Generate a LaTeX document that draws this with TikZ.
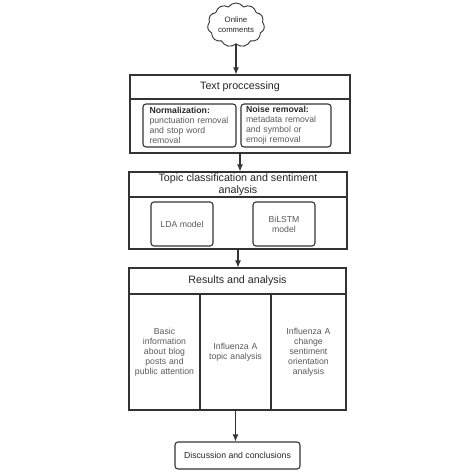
\documentclass[tikz,border=0pt]{standalone}
\usepackage{fontspec}
\setmainfont{Liberation Sans}
\usetikzlibrary{shapes.symbols, arrows.meta}

\begin{document}
\begin{tikzpicture}[
    x=1pt, y=-1pt,
    % Outer boxes: header strip and body
    head/.style={draw=black!80, line width=1.1pt, fill=white, align=center, inner sep=0pt, font=\fontsize{10.7}{12}\selectfont, text=black!85},
    body/.style={draw=black!80, line width=1.1pt, inner sep=0pt},
    % Inner rounded boxes
    inbox/.style={draw=black!80, line width=1.1pt, rounded corners=3pt, inner sep=0pt, font=\fontsize{8.7}{10}\selectfont, text=black!65},
    % Result columns
    col/.style={draw=black!80, line width=1.1pt, inner sep=0pt, text width=66pt, align=center, minimum height=116pt, font=\fontsize{8.7}{10}\selectfont, text=black!65},
    % Connectors
    arr/.style={-{Latex[length=7pt, width=6pt]}, line width=1.1pt, black!80},
]
\useasboundingbox (0,0) rectangle (474,474);

% === INPUT ===
\node[cloud, cloud puffs=11, cloud puff arc=110, draw=black!80, line width=0.9pt, minimum width=57pt, minimum height=44pt, inner sep=0pt] (cloud) at (236,25) {};
\node[align=center, font=\fontsize{7.8}{10}\selectfont, text=black!85] (cloudtext) at (cloud) {Online\\comments};

% === TEXT PROCESSING ===
\node[head, minimum width=220pt, minimum height=24pt] (tphead) at (240,87) {Text proccessing};
\node[body, minimum width=220pt, minimum height=54pt] (tpbody) at (240,126) {};
\node[inbox, minimum width=93pt, minimum height=43pt, text width=80pt, align=left] (norm) at (189.5,125.5) {\textbf{\color{black!85}Normalization:}\\punctuation removal\\and stop word\\removal};
\node[inbox, minimum width=90pt, minimum height=43pt, text width=80pt, align=left] (noise) at (286,125.5) {\textbf{\color{black!85}Noise removal:}\\metadata removal\\and symbol or\\emoji removal};

% === TOPIC CLASSIFICATION ===
\node[head, minimum width=218pt, minimum height=25pt] (tchead) at (238,184.5) {Topic classification and sentiment\\analysis};
\node[body, minimum width=218pt, minimum height=52pt] (tcbody) at (238,223) {};
\node[inbox, minimum width=62pt, minimum height=44pt, align=center] (lda) at (182,224) {LDA model};
\node[inbox, minimum width=62pt, minimum height=44pt, align=center] (bilstm) at (284,224) {BiLSTM\\model};

% === RESULTS ===
\node[head, minimum width=217pt, minimum height=26pt] (rahead) at (237.5,281) {Results and analysis};
\node[col, minimum width=71pt] (basic) at (164.5,352) {Basic\\information\\about blog\\posts and\\public attention};
\node[col, minimum width=71pt] (topic) at (235.5,352) {Influenza A\\topic analysis};
\node[col, minimum width=75pt] (senti) at (308.5,352) {Influenza A\\change\\sentiment\\orientation\\analysis};

% === CONCLUSION ===
\node[inbox, minimum width=125pt, minimum height=27pt, text=black!85] (disc) at (237.5,455.5) {Discussion and conclusions};

% === ARROWS ===
\draw[arr] (cloud.south) -- (cloud.south |- tphead.north);
\draw[arr] (tpbody.south) -- (tpbody.south |- tchead.north);
\draw[arr] (tcbody.south) -- (tcbody.south |- rahead.north);
\draw[arr] (topic.south) -- (topic.south |- disc.north);

\end{tikzpicture}
\end{document}
